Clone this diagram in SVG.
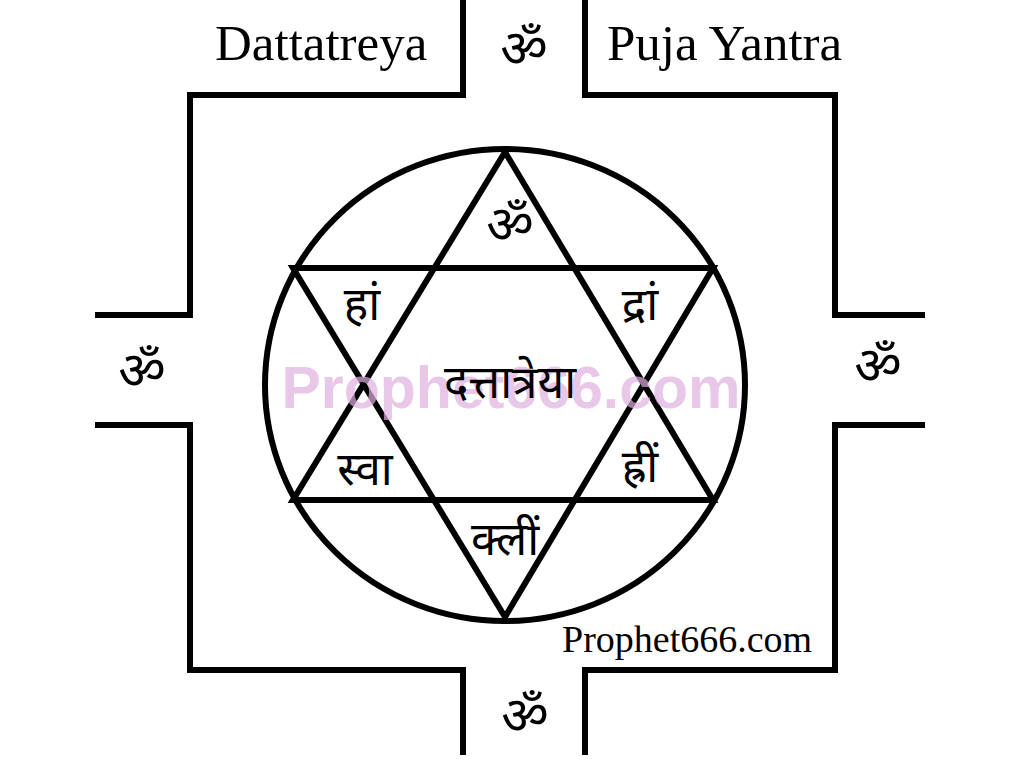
<svg xmlns="http://www.w3.org/2000/svg" width="1024" height="768" viewBox="0 0 1024 768">
<style>
.l{fill:none;stroke:#000;stroke-width:6;stroke-linejoin:miter}
.t{font-family:"Liberation Serif","Noto Sans","Noto Serif Devanagari",serif;fill:#000}
.d{font-family:"Noto Sans","Noto Serif Devanagari","Liberation Serif",serif;fill:#000;font-size:46px;text-anchor:middle}
.o{font-size:52px}
</style>
<rect width="1024" height="768" fill="#fff"/>
<g id="frame">
<polyline class="l" points="463,0 463,95 190,95 190,315 95,315"/>
<polyline class="l" points="95,425 190,425 190,670 463,670 463,755"/>
<polyline class="l" points="585,755 585,670 835,670 835,425 925,425"/>
<polyline class="l" points="925,315 835,315 835,95 585,95 585,0"/>
</g>
<g id="yantra">
<ellipse class="l" cx="505" cy="385" rx="240" ry="236"/>
<polygon class="l" points="505,152 293,500 713,500"/>
<polygon class="l" points="293,268 713,268 505,617"/>
</g>
<text x="511" y="408" text-anchor="middle" style="font-family:'Liberation Sans',Arial,sans-serif;font-weight:bold;font-size:59px;fill:#e0b0e0;opacity:0.7">Prophet666.com</text>
<g id="labels">
<text class="t" x="215" y="60" font-size="51">Dattatreya</text>
<text class="t" x="607" y="60" font-size="51">Puja Yantra</text>
<text class="d o" x="524" y="66">ॐ</text>
<text class="d o" x="510" y="242">ॐ</text>
<text class="d o" x="142" y="388">ॐ</text>
<text class="d o" x="878" y="383">ॐ</text>
<text class="d o" x="525" y="733">ॐ</text>
<text class="d" x="362" y="320">हां</text>
<text class="d" x="640" y="320">द्रां</text>
<text class="d" x="510" y="398">दत्तात्रेया</text>
<text class="d" x="365" y="485">स्वा</text>
<text class="d" x="640" y="482">ह्रीं</text>
<text class="d" x="505" y="555">क्लीं</text>
<text class="t" x="562" y="652" font-size="38">Prophet666.com</text>
</g>
</svg>
